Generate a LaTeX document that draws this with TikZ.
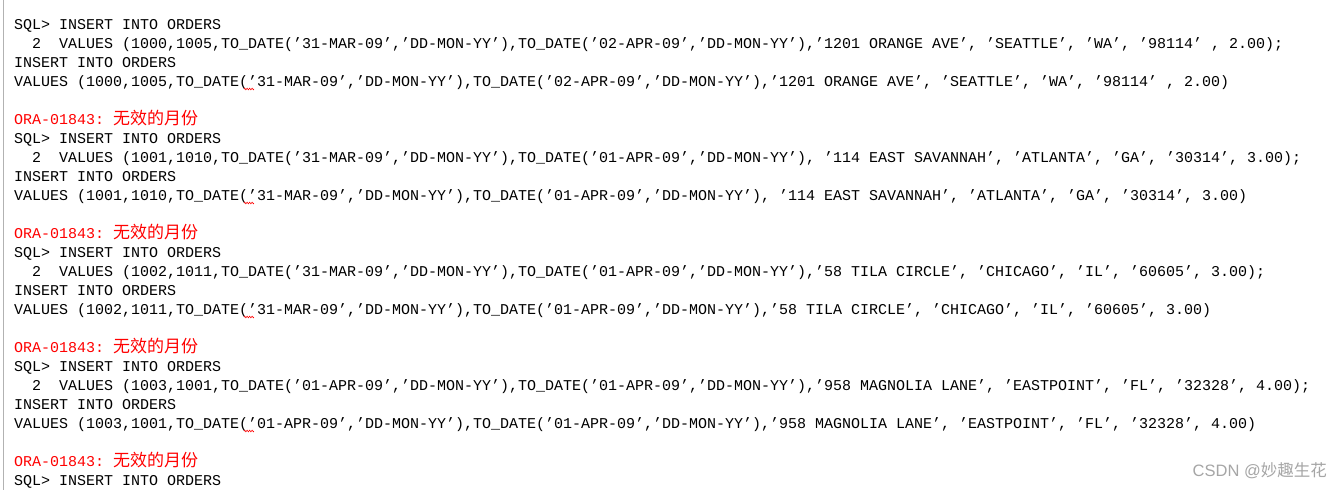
\documentclass[tikz,border=0pt]{standalone}
\usepackage{fontspec}
\setmonofont{Liberation Mono}
\newfontfamily\cjk{Noto Sans CJK SC}
\newfontfamily\wmfont{Liberation Sans}
\usetikzlibrary{decorations.pathmorphing}
\tikzset{
  ln/.style={anchor=base west,inner sep=0pt,font=\ttfamily\fontsize{15pt}{19pt}\selectfont,text=black},
  err/.style={ln,text=red},
}
\newcommand{\Y}[1]{-\the\numexpr 29+19*#1\relax pt}
\begin{document}
\begin{tikzpicture}[x=1pt,y=1pt]
\path[fill=white,use as bounding box] (0,0) rectangle (1342,-490);
\draw[gray!60,line width=1.2pt] (3.5,0) -- (3.5,-490);
\node[ln] (l0) at (14,\Y{0}) {SQL> INSERT INTO ORDERS};
\node[ln] (l1) at (14,\Y{1}) {\ \ 2\ \ VALUES (1000,1005,TO\_DATE(’31-MAR-09’,’DD-MON-YY’),TO\_DATE(’02-APR-09’,’DD-MON-YY’),’1201 ORANGE AVE’, ’SEATTLE’, ’WA’, ’98114’ , 2.00);};
\node[ln] (l2) at (14,\Y{2}) {INSERT INTO ORDERS};
\node[ln] (l3) at (14,\Y{3}) {VALUES (1000,1005,TO\_DATE(’31-MAR-09’,’DD-MON-YY’),TO\_DATE(’02-APR-09’,’DD-MON-YY’),’1201 ORANGE AVE’, ’SEATTLE’, ’WA’, ’98114’ , 2.00)};
\node[err] (l5) at (14,\Y{5}) {ORA-01843: {\cjk\fontsize{17pt}{19pt}\selectfont 无效的月份}};
\node[ln] (l6) at (14,\Y{6}) {SQL> INSERT INTO ORDERS};
\node[ln] (l7) at (14,\Y{7}) {\ \ 2\ \ VALUES (1001,1010,TO\_DATE(’31-MAR-09’,’DD-MON-YY’),TO\_DATE(’01-APR-09’,’DD-MON-YY’), ’114 EAST SAVANNAH’, ’ATLANTA’, ’GA’, ’30314’, 3.00);};
\node[ln] (l8) at (14,\Y{8}) {INSERT INTO ORDERS};
\node[ln] (l9) at (14,\Y{9}) {VALUES (1001,1010,TO\_DATE(’31-MAR-09’,’DD-MON-YY’),TO\_DATE(’01-APR-09’,’DD-MON-YY’), ’114 EAST SAVANNAH’, ’ATLANTA’, ’GA’, ’30314’, 3.00)};
\node[err] (l11) at (14,\Y{11}) {ORA-01843: {\cjk\fontsize{17pt}{19pt}\selectfont 无效的月份}};
\node[ln] (l12) at (14,\Y{12}) {SQL> INSERT INTO ORDERS};
\node[ln] (l13) at (14,\Y{13}) {\ \ 2\ \ VALUES (1002,1011,TO\_DATE(’31-MAR-09’,’DD-MON-YY’),TO\_DATE(’01-APR-09’,’DD-MON-YY’),’58 TILA CIRCLE’, ’CHICAGO’, ’IL’, ’60605’, 3.00);};
\node[ln] (l14) at (14,\Y{14}) {INSERT INTO ORDERS};
\node[ln] (l15) at (14,\Y{15}) {VALUES (1002,1011,TO\_DATE(’31-MAR-09’,’DD-MON-YY’),TO\_DATE(’01-APR-09’,’DD-MON-YY’),’58 TILA CIRCLE’, ’CHICAGO’, ’IL’, ’60605’, 3.00)};
\node[err] (l17) at (14,\Y{17}) {ORA-01843: {\cjk\fontsize{17pt}{19pt}\selectfont 无效的月份}};
\node[ln] (l18) at (14,\Y{18}) {SQL> INSERT INTO ORDERS};
\node[ln] (l19) at (14,\Y{19}) {\ \ 2\ \ VALUES (1003,1001,TO\_DATE(’01-APR-09’,’DD-MON-YY’),TO\_DATE(’01-APR-09’,’DD-MON-YY’),’958 MAGNOLIA LANE’, ’EASTPOINT’, ’FL’, ’32328’, 4.00);};
\node[ln] (l20) at (14,\Y{20}) {INSERT INTO ORDERS};
\node[ln] (l21) at (14,\Y{21}) {VALUES (1003,1001,TO\_DATE(’01-APR-09’,’DD-MON-YY’),TO\_DATE(’01-APR-09’,’DD-MON-YY’),’958 MAGNOLIA LANE’, ’EASTPOINT’, ’FL’, ’32328’, 4.00)};
\node[err] (l23) at (14,\Y{23}) {ORA-01843: {\cjk\fontsize{17pt}{19pt}\selectfont 无效的月份}};
\node[ln] (l24) at (14,\Y{24}) {SQL> INSERT INTO ORDERS};
\foreach \i in {3,9,15,21}{
  \draw[red,line width=0.6pt,decorate,decoration={zigzag,amplitude=0.8pt,segment length=2.5pt}]
    (244,{-(29+19*\i)-3}) -- (254,{-(29+19*\i)-3});
}
\node[anchor=base east,inner sep=0pt,text=gray!70,font=\fontsize{16.5pt}{18pt}\selectfont] (wm) at (1327,-476) {{\wmfont CSDN @}{\cjk 妙趣生花}};
\end{tikzpicture}
\end{document}
